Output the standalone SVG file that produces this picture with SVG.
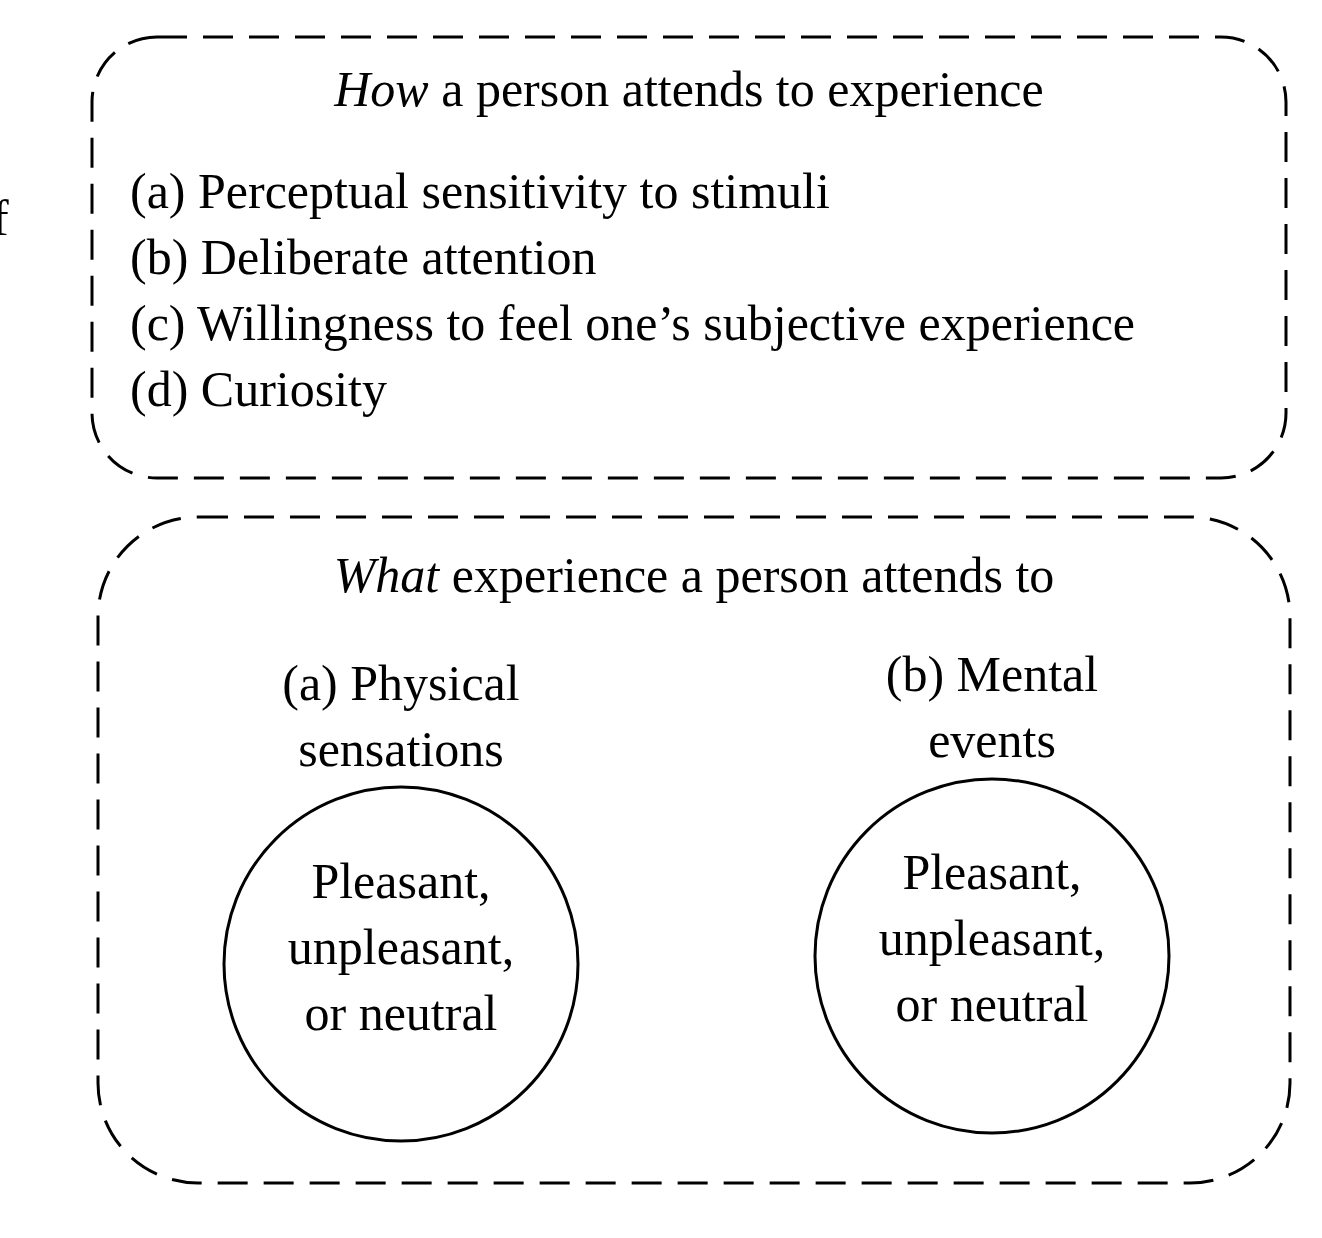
<svg xmlns="http://www.w3.org/2000/svg" width="1322" height="1238" viewBox="0 0 1322 1238">
<style>
text{font-family:"Liberation Serif","Times New Roman",serif;font-size:50px;fill:#000}
.box{fill:none;stroke:#000;stroke-width:3;stroke-dasharray:30 16}
.c{fill:none;stroke:#000;stroke-width:3}
.m{text-anchor:middle}
</style>
<rect width="1322" height="1238" fill="#fff"/>
<text x="-8" y="235">f</text>
<g id="how">
<rect class="box" x="92" y="37" width="1194" height="441" rx="65"/>
<text class="m" x="689" y="106"><tspan font-style="italic">How</tspan> a person attends to experience</text>
<text x="130" y="208">(a) Perceptual sensitivity to stimuli</text>
<text x="130" y="274">(b) Deliberate attention</text>
<text x="130" y="340">(c) Willingness to feel one’s subjective experience</text>
<text x="130" y="406">(d) Curiosity</text>
</g>
<g id="what">
<rect class="box" x="98" y="517" width="1192" height="666" rx="100"/>
<text class="m" x="694" y="592"><tspan font-style="italic">What</tspan> experience a person attends to</text>
</g>
<g id="physical">
<text class="m" x="401" y="700">(a) Physical</text>
<text class="m" x="401" y="766">sensations</text>
<circle class="c" cx="401" cy="964" r="177"/>
<text class="m" x="401" y="898">Pleasant,</text>
<text class="m" x="401" y="964">unpleasant,</text>
<text class="m" x="401" y="1030">or neutral</text>
</g>
<g id="mental">
<text class="m" x="992" y="691">(b) Mental</text>
<text class="m" x="992" y="757">events</text>
<circle class="c" cx="992" cy="956" r="177"/>
<text class="m" x="992" y="889">Pleasant,</text>
<text class="m" x="992" y="955">unpleasant,</text>
<text class="m" x="992" y="1021">or neutral</text>
</g>
<g id="connectors"></g>
</svg>
